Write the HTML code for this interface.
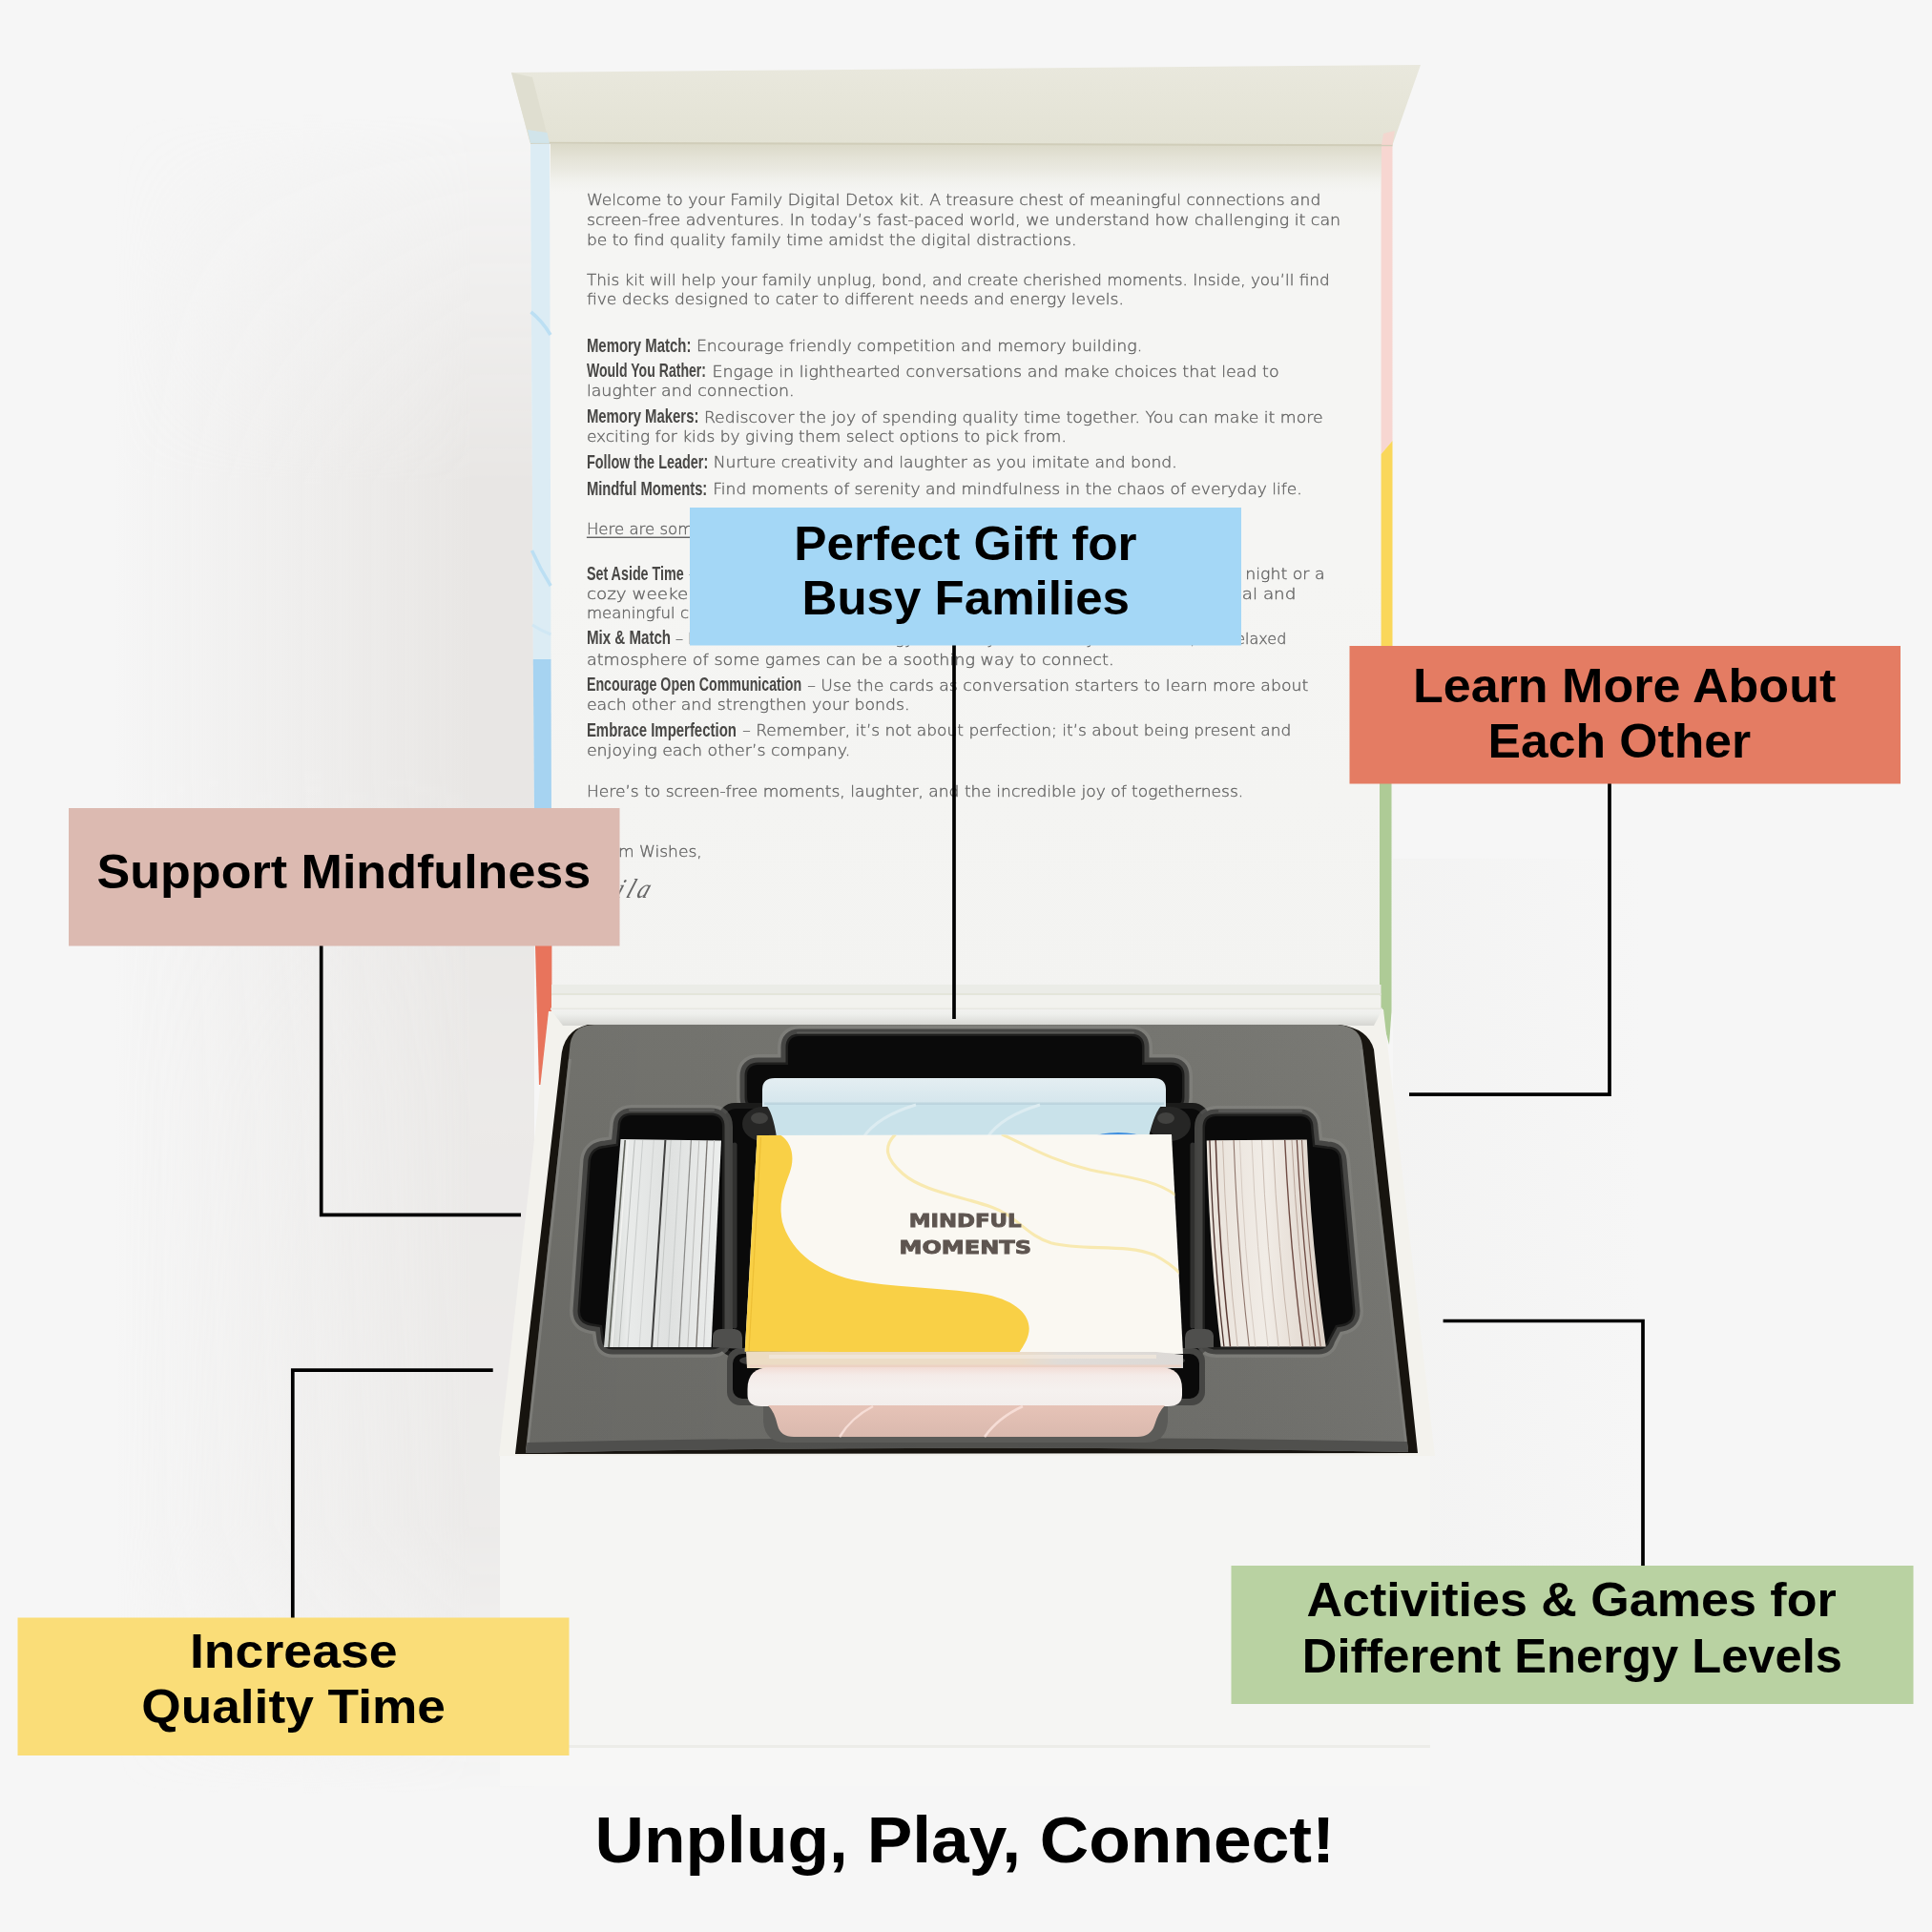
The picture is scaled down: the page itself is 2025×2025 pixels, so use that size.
<!DOCTYPE html>
<html lang="en"><head><meta charset="utf-8"><title>Family Digital Detox Kit</title>
<style>
html,body{margin:0;padding:0;background:#f6f6f6;}
body{width:2025px;height:2025px;overflow:hidden;}
svg{display:block;will-change:transform;}
.lbl{font-family:"Liberation Sans",sans-serif;font-weight:700;font-size:50px;fill:#000;}
.big{font-family:"Liberation Sans",sans-serif;font-weight:700;font-size:68.5px;fill:#000;}
.bd{font-family:"DejaVu Sans","Liberation Sans",sans-serif;font-weight:200;font-size:16px;fill:#626262;stroke:#626262;stroke-width:0.34px;}
.hd{font-family:"Liberation Sans",sans-serif;font-weight:700;font-size:21px;fill:#484745;}
.card{font-family:"DejaVu Sans","Liberation Sans",sans-serif;font-weight:700;font-size:19.5px;fill:#5e5550;stroke:#5e5550;stroke-width:0.9px;}
.sig{font-family:"Liberation Serif",serif;font-style:italic;font-size:30px;fill:#555;}
</style></head><body>
<svg width="2025" height="2025" viewBox="0 0 2025 2025">
<defs>
<radialGradient id="bgsh" cx="0.5" cy="0.5" r="0.5"><stop offset="0" stop-color="#e9e7e7" stop-opacity="1"/><stop offset="1" stop-color="#e9e7e7" stop-opacity="0"/></radialGradient>
<linearGradient id="flap" x1="0" y1="0" x2="0" y2="1"><stop offset="0" stop-color="#e9e8dd"/><stop offset="1" stop-color="#e3e2d4"/></linearGradient>
<linearGradient id="flapsh" x1="0" y1="0" x2="0" y2="1"><stop offset="0" stop-color="#dbd9c8" stop-opacity="1"/><stop offset="0.5" stop-color="#e6e5da" stop-opacity="0.75"/><stop offset="1" stop-color="#f0f0ea" stop-opacity="0"/></linearGradient>
<linearGradient id="tray" x1="0" y1="0" x2="0" y2="1"><stop offset="0" stop-color="#767671"/><stop offset="0.3" stop-color="#73736e"/><stop offset="1" stop-color="#6d6d69"/></linearGradient>
<linearGradient id="trayh" x1="0" y1="0" x2="1" y2="0"><stop offset="0" stop-color="#000" stop-opacity="0.04"/><stop offset="0.5" stop-color="#000" stop-opacity="0"/><stop offset="1" stop-color="#fff" stop-opacity="0.04"/></linearGradient>
<linearGradient id="lid" x1="0" y1="0" x2="0" y2="1"><stop offset="0" stop-color="#f5f5f3"/><stop offset="0.5" stop-color="#f5f5f3"/><stop offset="1" stop-color="#f3f3f1"/></linearGradient>
<linearGradient id="bot" x1="0" y1="0" x2="0" y2="1"><stop offset="0" stop-color="#fbfbfb" stop-opacity="0"/><stop offset="1" stop-color="#fbfbfb" stop-opacity="1"/></linearGradient>
<linearGradient id="shband" x1="0" y1="0" x2="1" y2="0"><stop offset="0" stop-color="#e8e6e4" stop-opacity="0"/><stop offset="0.45" stop-color="#e8e6e4" stop-opacity="0.5"/><stop offset="0.85" stop-color="#e8e6e4" stop-opacity="1"/><stop offset="1" stop-color="#e8e6e4" stop-opacity="1"/></linearGradient>
<linearGradient id="shv" x1="0" y1="0" x2="0" y2="1"><stop offset="0" stop-color="#000"/><stop offset="0.06" stop-color="#454545"/><stop offset="0.22" stop-color="#fff"/><stop offset="0.39" stop-color="#fff"/><stop offset="0.585" stop-color="#cfcfcf"/><stop offset="0.84" stop-color="#b5b5b5"/><stop offset="0.926" stop-color="#666"/><stop offset="1" stop-color="#000"/></linearGradient>
<mask id="shmask" maskUnits="userSpaceOnUse" x="120" y="120" width="440" height="1760"><rect x="120" y="120" width="440" height="1760" fill="url(#shv)"/></mask>
<linearGradient id="shr" x1="0" y1="0" x2="1" y2="0"><stop offset="0" stop-color="#f0f0ef" stop-opacity="1"/><stop offset="1" stop-color="#f0f0ef" stop-opacity="0"/></linearGradient>
<linearGradient id="rimsh" x1="0" y1="0" x2="0" y2="1"><stop offset="0" stop-color="#f1f1ef"/><stop offset="0.3" stop-color="#eeefec"/><stop offset="1" stop-color="#d6d6d2"/></linearGradient>
<linearGradient id="plastic" x1="0" y1="0" x2="1" y2="0"><stop offset="0" stop-color="#ecdcc4"/><stop offset="0.62" stop-color="#ecdcc8"/><stop offset="0.72" stop-color="#e0dcd8"/><stop offset="1" stop-color="#dcd9d6"/></linearGradient>
<linearGradient id="pinkb" x1="0" y1="0" x2="0" y2="1"><stop offset="0" stop-color="#e6c3b7"/><stop offset="1" stop-color="#dab9ae"/></linearGradient>
<linearGradient id="bg" x1="0" y1="0" x2="1" y2="0"><stop offset="0" stop-color="#f5f5f5"/><stop offset="0.5" stop-color="#f7f7f7"/><stop offset="1" stop-color="#fafafa"/></linearGradient>
<linearGradient id="stackL" x1="0" y1="0" x2="1" y2="0"><stop offset="0" stop-color="#cfd3d0"/><stop offset="0.2" stop-color="#e9ebea"/><stop offset="0.55" stop-color="#dfe1e0"/><stop offset="1" stop-color="#eceeed"/></linearGradient>
<linearGradient id="stackR" x1="0" y1="0" x2="1" y2="0"><stop offset="0" stop-color="#e9e2da"/><stop offset="0.5" stop-color="#f1ece6"/><stop offset="1" stop-color="#ddd2c8"/></linearGradient>
<linearGradient id="blue1" x1="0" y1="0" x2="0" y2="1"><stop offset="0" stop-color="#e4eef2"/><stop offset="1" stop-color="#d3e5ec"/></linearGradient>
<linearGradient id="pinkhi" x1="0" y1="0" x2="0" y2="1"><stop offset="0" stop-color="#f2dcd5"/><stop offset="0.2" stop-color="#f4ebe8"/><stop offset="0.6" stop-color="#f5f1ef"/><stop offset="1" stop-color="#f3eeec"/></linearGradient>
<clipPath id="cardclip"><path d="M793.6,1190 L1228,1189 L1240,1419 L780.7,1416.6 Z"/></clipPath>
</defs>
<rect width="2025" height="2025" fill="#f6f6f6"/>
<rect x="120" y="120" width="440" height="1760" fill="url(#shband)" mask="url(#shmask)"/>
<rect x="1460" y="900" width="260" height="800" fill="url(#shr)" opacity="0.5"/>
<path d="M524,1520 L1499,1520 L1499,1833 L524,1833 Z" fill="#f5f5f3"/>
<rect x="524" y="1829" width="975" height="3" fill="#ecece8"/>
<rect x="524" y="1832" width="975" height="40" fill="#f8f8f7" opacity="0.7"/>
<path d="M556,149 L1459.5,151 L1459.5,1062 L561,1062 Z" fill="url(#lid)"/>
<path d="M556,150 L576,150 L577.5,692 L558.8,692 Z" fill="#dcecf4"/>
<path d="M558.8,691 L577.5,691 L578.4,992 L561,992 Z" fill="#a6d3f1"/>
<path d="M561,991 L578.4,991 L578.4,1059 L567,1137 L565,1137 Z" fill="#e8745c"/>
<path d="M556.5,327 Q568,336 577,351" stroke="#bcdff3" stroke-width="3.5" fill="none"/>
<path d="M557.5,577 Q566,596 577.2,614" stroke="#bcdff3" stroke-width="3.5" fill="none"/>
<path d="M558,655 Q567,661 577.4,665" stroke="#cbe5f3" stroke-width="3" fill="none" opacity="0.7"/>
<path d="M1447.6,152 L1459.5,152 L1459.5,462 L1447.6,476 Z" fill="#f7d6d1"/>
<path d="M1447.6,476 L1459.5,462 L1459.5,680 L1447.6,680 Z" fill="#fad75a"/>
<path d="M1446,820 L1458.5,820 L1458.5,1060 L1456,1095 L1446,1058 Z" fill="#aecb96"/>
<path d="M536,76 L1489,68 L1459.5,152 L555.6,149.6 Z" fill="url(#flap)"/>
<path d="M536,76 L558,81 L575.6,149.6 L555.6,149.6 Z" fill="#dfded0"/>
<rect x="577" y="151" width="871" height="52" fill="url(#flapsh)"/>
<path d="M556,149.8 L1459.5,152.2" stroke="#d0cdb9" stroke-width="2" fill="none"/>
<path d="M553,136 L573.5,139 L576,150.5 L556,150 Z" fill="#cfe5ee" opacity="0.85"/>
<path d="M1450,140 L1462,137 L1459.5,152 L1448,152 Z" fill="#f6d3cd" opacity="0.8"/>
<rect x="578" y="1032" width="869.5" height="11" fill="#ebece7"/>
<rect x="578" y="1041" width="869.5" height="2.2" fill="#e4e5da"/>
<rect x="578" y="1043.2" width="869.5" height="14" fill="#f2f2ee"/>
<rect x="577" y="1056.5" width="872" height="1.6" fill="#e7e7e1"/>
<g id="lid-text">
<text class="bd" x="614.9" y="215.0" textLength="769.4" lengthAdjust="spacingAndGlyphs">Welcome to your Family Digital Detox kit. A treasure chest of meaningful connections and</text>
<text class="bd" x="614.9" y="236.2" textLength="790.2" lengthAdjust="spacingAndGlyphs">screen-free adventures. In today’s fast-paced world, we understand how challenging it can</text>
<text class="bd" x="614.9" y="256.7" textLength="513.5" lengthAdjust="spacingAndGlyphs">be to find quality family time amidst the digital distractions.</text>
<text class="bd" x="614.9" y="299.0" textLength="778.8" lengthAdjust="spacingAndGlyphs">This kit will help your family unplug, bond, and create cherished moments. Inside, you’ll find</text>
<text class="bd" x="614.9" y="319.4" textLength="563.1" lengthAdjust="spacingAndGlyphs">five decks designed to cater to different needs and energy levels.</text>
<text class="hd" x="614.9" y="368.59999999999997" textLength="109.5" lengthAdjust="spacingAndGlyphs">Memory Match:</text>
<text class="bd" x="729.9" y="368.2" textLength="467.3" lengthAdjust="spacingAndGlyphs">Encourage friendly competition and memory building.</text>
<text class="hd" x="614.9" y="395.09999999999997" textLength="125.1" lengthAdjust="spacingAndGlyphs">Would You Rather:</text>
<text class="bd" x="746.4" y="394.7" textLength="594.2" lengthAdjust="spacingAndGlyphs">Engage in lighthearted conversations and make choices that lead to</text>
<text class="bd" x="614.9" y="414.7" textLength="217.7" lengthAdjust="spacingAndGlyphs">laughter and connection.</text>
<text class="hd" x="614.9" y="443.09999999999997" textLength="117.5" lengthAdjust="spacingAndGlyphs">Memory Makers:</text>
<text class="bd" x="737.9" y="442.7" textLength="648.6" lengthAdjust="spacingAndGlyphs">Rediscover the joy of spending quality time together. You can make it more</text>
<text class="bd" x="614.9" y="463.1" textLength="502.9" lengthAdjust="spacingAndGlyphs">exciting for kids by giving them select options to pick from.</text>
<text class="hd" x="614.9" y="490.7" textLength="127.3" lengthAdjust="spacingAndGlyphs">Follow the Leader:</text>
<text class="bd" x="747.7" y="490.3" textLength="486.0" lengthAdjust="spacingAndGlyphs">Nurture creativity and laughter as you imitate and bond.</text>
<text class="hd" x="614.9" y="518.6999999999999" textLength="126.4" lengthAdjust="spacingAndGlyphs">Mindful Moments:</text>
<text class="bd" x="747.3" y="518.3" textLength="617.5" lengthAdjust="spacingAndGlyphs">Find moments of serenity and mindfulness in the chaos of everyday life.</text>
<text class="bd" x="614.9" y="559.5" textLength="575.1" lengthAdjust="spacingAndGlyphs">Here are some tips to make the most of your Family Digital Detox kit:</text>
<text class="hd" x="614.9" y="607.5" textLength="101.8" lengthAdjust="spacingAndGlyphs">Set Aside Time</text>
<text class="bd" x="722.0" y="607.1" textLength="666.6" lengthAdjust="spacingAndGlyphs">– Choose a regular time for family fun, whether it’s a weekly game night or a</text>
<text class="bd" x="614.9" y="627.5" textLength="743.5" lengthAdjust="spacingAndGlyphs">cozy weekend morning together, so that these moments become intentional and</text>
<text class="bd" x="614.9" y="647.8" textLength="305.1" lengthAdjust="spacingAndGlyphs">meaningful connection for everyone.</text>
<text class="hd" x="614.9" y="675.4" textLength="88.2" lengthAdjust="spacingAndGlyphs">Mix &amp; Match</text>
<text class="bd" x="708.0" y="675.0" textLength="640.3" lengthAdjust="spacingAndGlyphs">– Pick a deck to suit the energy of the day. Whenever you need one, the relaxed</text>
<text class="bd" x="614.9" y="696.6" textLength="552.6" lengthAdjust="spacingAndGlyphs">atmosphere of some games can be a soothing way to connect.</text>
<text class="hd" x="614.9" y="724.1999999999999" textLength="225.3" lengthAdjust="spacingAndGlyphs">Encourage Open Communication</text>
<text class="bd" x="846.2" y="723.8" textLength="525.0" lengthAdjust="spacingAndGlyphs">– Use the cards as conversation starters to learn more about</text>
<text class="bd" x="614.9" y="744.2" textLength="338.6" lengthAdjust="spacingAndGlyphs">each other and strengthen your bonds.</text>
<text class="hd" x="614.9" y="771.6999999999999" textLength="157.0" lengthAdjust="spacingAndGlyphs">Embrace Imperfection</text>
<text class="bd" x="778.3" y="771.3" textLength="575.1" lengthAdjust="spacingAndGlyphs">– Remember, it’s not about perfection; it’s about being present and</text>
<text class="bd" x="614.9" y="791.9" textLength="276.3" lengthAdjust="spacingAndGlyphs">enjoying each other’s company.</text>
<text class="bd" x="614.9" y="835.3" textLength="688.4" lengthAdjust="spacingAndGlyphs">Here’s to screen-free moments, laughter, and the incredible joy of togetherness.</text>
<text class="bd" x="614.9" y="897.7" textLength="120.9" lengthAdjust="spacingAndGlyphs">Warm Wishes,</text>
<rect x="614.9" y="562.6" width="576" height="1.3" fill="#555"/>
<text class="sig" x="0" y="0" transform="translate(596,941) skewX(-20) scale(1,1.15)" style="font-size:25px;letter-spacing:4px;fill:#666">Sheila</text>
</g>
<path d="M575,1060 L1450,1058 L1504,1526 L523,1526 Z" fill="#f3f2ed"/>
<path d="M577,1058 L1449,1058 L1440,1075 L590,1075 Z" fill="url(#rimsh)"/>
<path d="M588,1110 Q590,1080 616,1074 L1404,1074 Q1434,1078 1440,1100 L1486,1523 L540,1524 Z" fill="#17140f"/>
<path d="M597,1100 Q598,1074 623,1074 L1402,1074 Q1426,1076 1428,1096 L1476,1522 Q1000,1513 551,1523 Z" fill="url(#tray)"/>
<path d="M597,1100 Q598,1074 623,1074 L1402,1074 Q1426,1076 1428,1096 L1476,1522 Q1000,1513 551,1523 Z" fill="url(#trayh)"/>
<path d="M597.5,1110 L552.5,1520" stroke="#8a8a86" stroke-width="3" opacity="0.55" fill="none"/>
<path d="M1427,1100 L1474.5,1519" stroke="#8a8a86" stroke-width="3" opacity="0.45" fill="none"/>
<path d="M551,1523 Q1000,1513 1476,1522 L1475,1511 Q1000,1502 552.5,1512 Z" fill="#4c4c4a" opacity="0.9"/>
<path d="M838,1086 L1185,1086 Q1197,1086 1197,1098 L1197,1116 L1227,1116 Q1239,1116 1239,1128 L1239,1150 Q1239,1160 1229,1160 L793,1160 Q783,1160 783,1150 L783,1128 Q783,1116 795,1116 L826,1116 L826,1098 Q826,1086 838,1086 Z" fill="#8b8b87" stroke="#8b8b87" stroke-width="22" stroke-linejoin="round" opacity="0.45"/>
<path d="M838,1086 L1185,1086 Q1197,1086 1197,1098 L1197,1116 L1227,1116 Q1239,1116 1239,1128 L1239,1150 Q1239,1160 1229,1160 L793,1160 Q783,1160 783,1150 L783,1128 Q783,1116 795,1116 L826,1116 L826,1098 Q826,1086 838,1086 Z" fill="#464644" stroke="#464644" stroke-width="15" stroke-linejoin="round"/>
<path d="M838,1086 L1185,1086 Q1197,1086 1197,1098 L1197,1116 L1227,1116 Q1239,1116 1239,1128 L1239,1150 Q1239,1160 1229,1160 L793,1160 Q783,1160 783,1150 L783,1128 Q783,1116 795,1116 L826,1116 L826,1098 Q826,1086 838,1086 Z" fill="#1e1e1d" stroke="#1e1e1d" stroke-width="5" stroke-linejoin="round"/>
<path d="M838,1086 L1185,1086 Q1197,1086 1197,1098 L1197,1116 L1227,1116 Q1239,1116 1239,1128 L1239,1150 Q1239,1160 1229,1160 L793,1160 Q783,1160 783,1150 L783,1128 Q783,1116 795,1116 L826,1116 L826,1098 Q826,1086 838,1086 Z" fill="#0a0a0a"/>
<path d="M836,1082.5 L1188,1082.5" stroke="#6d6d6a" stroke-width="2" opacity="0.55" stroke-linecap="round"/>
<rect x="752" y="1156" width="516" height="266" rx="18" fill="#1b1b1a"/>
<rect x="758" y="1162" width="504" height="256" rx="14" fill="#0a0a0a"/>
<path d="M662,1169 L745,1169 Q757,1169 757,1181 L757,1400 Q757,1412 745,1412 L642,1412 Q634,1412 633,1404 L631,1389 L619,1387 Q608,1385 608,1374 L619,1216 Q621,1204 635,1203 L648,1201 L650,1181 Q650,1169 662,1169 Z" fill="#8b8b87" stroke="#8b8b87" stroke-width="22" stroke-linejoin="round" opacity="0.45"/>
<path d="M662,1169 L745,1169 Q757,1169 757,1181 L757,1400 Q757,1412 745,1412 L642,1412 Q634,1412 633,1404 L631,1389 L619,1387 Q608,1385 608,1374 L619,1216 Q621,1204 635,1203 L648,1201 L650,1181 Q650,1169 662,1169 Z" fill="#464644" stroke="#464644" stroke-width="15" stroke-linejoin="round"/>
<path d="M662,1169 L745,1169 Q757,1169 757,1181 L757,1400 Q757,1412 745,1412 L642,1412 Q634,1412 633,1404 L631,1389 L619,1387 Q608,1385 608,1374 L619,1216 Q621,1204 635,1203 L648,1201 L650,1181 Q650,1169 662,1169 Z" fill="#1e1e1d" stroke="#1e1e1d" stroke-width="5" stroke-linejoin="round"/>
<path d="M662,1169 L745,1169 Q757,1169 757,1181 L757,1400 Q757,1412 745,1412 L642,1412 Q634,1412 633,1404 L631,1389 L619,1387 Q608,1385 608,1374 L619,1216 Q621,1204 635,1203 L648,1201 L650,1181 Q650,1169 662,1169 Z" fill="#0a0a0a"/>
<path d="M660,1163.5 L748,1163.5" stroke="#757572" stroke-width="2" opacity="0.5" stroke-linecap="round"/>
<path d="M1275,1170 L1362,1170 Q1374,1170 1374,1182 L1376,1202 L1391,1204 Q1403,1204 1404,1216 L1418,1374 Q1418,1386 1406,1388 L1400,1389 L1392,1404 Q1390,1412 1382,1412 L1275,1412 Q1263,1412 1263,1400 L1263,1182 Q1263,1170 1275,1170 Z" fill="#8b8b87" stroke="#8b8b87" stroke-width="22" stroke-linejoin="round" opacity="0.45"/>
<path d="M1275,1170 L1362,1170 Q1374,1170 1374,1182 L1376,1202 L1391,1204 Q1403,1204 1404,1216 L1418,1374 Q1418,1386 1406,1388 L1400,1389 L1392,1404 Q1390,1412 1382,1412 L1275,1412 Q1263,1412 1263,1400 L1263,1182 Q1263,1170 1275,1170 Z" fill="#464644" stroke="#464644" stroke-width="15" stroke-linejoin="round"/>
<path d="M1275,1170 L1362,1170 Q1374,1170 1374,1182 L1376,1202 L1391,1204 Q1403,1204 1404,1216 L1418,1374 Q1418,1386 1406,1388 L1400,1389 L1392,1404 Q1390,1412 1382,1412 L1275,1412 Q1263,1412 1263,1400 L1263,1182 Q1263,1170 1275,1170 Z" fill="#1e1e1d" stroke="#1e1e1d" stroke-width="5" stroke-linejoin="round"/>
<path d="M1275,1170 L1362,1170 Q1374,1170 1374,1182 L1376,1202 L1391,1204 Q1403,1204 1404,1216 L1418,1374 Q1418,1386 1406,1388 L1400,1389 L1392,1404 Q1390,1412 1382,1412 L1275,1412 Q1263,1412 1263,1400 L1263,1182 Q1263,1170 1275,1170 Z" fill="#0a0a0a"/>
<path d="M1278,1164.5 L1364,1164.5" stroke="#757572" stroke-width="2" opacity="0.5" stroke-linecap="round"/>
<ellipse cx="800" cy="1178" rx="22" ry="18" fill="#262625"/>
<ellipse cx="796" cy="1172" rx="9" ry="6" fill="#5a5a58" opacity="0.55"/>
<ellipse cx="1226" cy="1178" rx="22" ry="18" fill="#262625"/>
<ellipse cx="1222" cy="1172" rx="9" ry="6" fill="#5a5a58" opacity="0.55"/>
<path d="M770,1200 L770,1390" stroke="#3a3a39" stroke-width="5" opacity="0.8" stroke-linecap="round"/>
<path d="M1250,1200 L1250,1390" stroke="#3a3a39" stroke-width="5" opacity="0.8" stroke-linecap="round"/>
<rect x="762" y="1413" width="50" height="60" rx="14" fill="#464644"/>
<rect x="768" y="1419" width="38" height="47" rx="10" fill="#0a0a0a"/>
<rect x="1206" y="1413" width="57" height="60" rx="14" fill="#464644"/>
<rect x="1212" y="1419" width="45" height="47" rx="10" fill="#0a0a0a"/>
<ellipse cx="785" cy="1426" rx="10" ry="4" fill="#6a6a68" opacity="0.5"/>
<ellipse cx="1232" cy="1426" rx="10" ry="4" fill="#6a6a68" opacity="0.5"/>
<path d="M800,1440 L1224,1440 L1224,1490 Q1222,1512 1200,1512 L824,1512 Q802,1512 800,1490 Z" fill="#5b5b58"/>
<path d="M799,1160 L799,1142 Q799,1130 812,1130 L1209,1130 Q1222,1130 1222,1142 L1222,1160 Z" fill="url(#blue1)"/>
<path d="M802,1157 L1219,1157 Q1210,1165 1204,1192 L814,1192 Q810,1165 802,1157 Z" fill="#c9e2ea"/>
<rect x="801" y="1155.5" width="419" height="2.5" fill="#b5cfd9" opacity="0.7"/>
<path d="M905,1192 Q920,1170 960,1158" stroke="#dcecf1" stroke-width="3" fill="none"/>
<path d="M1035,1192 Q1050,1170 1090,1158" stroke="#dcecf1" stroke-width="3" fill="none"/>
<ellipse cx="1172" cy="1192" rx="24" ry="5" fill="#3f8fe0"/>
<path d="M650.5,1194 L756,1195.5 L745.5,1412 L633,1412 Z" fill="url(#stackL)"/>
<line x1="655.2" y1="1195" x2="638.1" y2="1412" stroke="#5d5f57" stroke-width="1.6"/>
<line x1="658.4" y1="1195" x2="641.4" y2="1412" stroke="#f4f4f2" stroke-width="1.2"/>
<line x1="665.3" y1="1195" x2="648.8" y2="1412" stroke="#b9bcba" stroke-width="1"/>
<line x1="673.7" y1="1195" x2="657.8" y2="1412" stroke="#c9cccb" stroke-width="1"/>
<line x1="685.3" y1="1195" x2="670.1" y2="1412" stroke="#d0d2d1" stroke-width="1"/>
<line x1="697.4" y1="1195" x2="683.1" y2="1412" stroke="#3f3f3e" stroke-width="2.0"/>
<line x1="703.2" y1="1195" x2="689.2" y2="1412" stroke="#c4c7c5" stroke-width="1"/>
<line x1="713.8" y1="1195" x2="700.5" y2="1412" stroke="#c9cccb" stroke-width="1"/>
<line x1="724.4" y1="1195" x2="711.8" y2="1412" stroke="#8a8a88" stroke-width="1.2"/>
<line x1="732.8" y1="1195" x2="720.8" y2="1412" stroke="#bdbdbb" stroke-width="1"/>
<line x1="741.2" y1="1195" x2="729.8" y2="1412" stroke="#77726e" stroke-width="1.3"/>
<line x1="748.6" y1="1195" x2="737.6" y2="1412" stroke="#c2c2c2" stroke-width="1"/>
<path d="M1264.7,1195.4 L1369.8,1194.6 Q1374,1300 1389.7,1411.5 L1279.6,1411.5 Q1268,1320 1264.7,1195.4 Z" fill="url(#stackR)"/>
<path d="M1267.9,1195 Q1271.2,1310 1282.9,1411.5" stroke="#4a2f2a" stroke-width="1.3" fill="none"/>
<path d="M1274.2,1195 Q1277.7,1310 1289.5,1411.5" stroke="#5a3a34" stroke-width="1.5" fill="none"/>
<path d="M1281.5,1195 Q1285.3,1310 1297.2,1411.5" stroke="#c9b9ae" stroke-width="1" fill="none"/>
<path d="M1293.1,1195 Q1297.2,1310 1309.3,1411.5" stroke="#8f766c" stroke-width="1.1" fill="none"/>
<path d="M1299.4,1195 Q1303.6,1310 1315.9,1411.5" stroke="#d6cbc2" stroke-width="1" fill="none"/>
<path d="M1312.0,1195 Q1316.6,1310 1329.1,1411.5" stroke="#d4c9c0" stroke-width="1" fill="none"/>
<path d="M1322.5,1195 Q1327.4,1310 1340.2,1411.5" stroke="#cbbdb3" stroke-width="1" fill="none"/>
<path d="M1334.1,1195 Q1339.3,1310 1352.3,1411.5" stroke="#c6b6ab" stroke-width="1" fill="none"/>
<path d="M1346.7,1195 Q1352.2,1310 1365.5,1411.5" stroke="#6f4c44" stroke-width="1.4" fill="none"/>
<path d="M1354.0,1195 Q1359.8,1310 1373.2,1411.5" stroke="#b9a59a" stroke-width="1" fill="none"/>
<path d="M1359.3,1195 Q1365.2,1310 1378.7,1411.5" stroke="#6d4a42" stroke-width="1.3" fill="none"/>
<path d="M1364.5,1195 Q1370.6,1310 1384.2,1411.5" stroke="#8a6c62" stroke-width="1.1" fill="none"/>
<path d="M747,1412 L747,1400 Q748,1393 756,1393 L770,1393 Q778,1394 778,1402 L778,1414 Z" fill="#4f4f4d"/>
<path d="M1272,1412 L1272,1400 Q1271,1393 1263,1393 L1250,1393 Q1242,1394 1242,1402 L1242,1414 Z" fill="#4f4f4d"/>
<path d="M793.6,1190 L1228,1189 L1240,1419 L780.7,1416.6 Z" fill="#faf8f2"/>
<g clip-path="url(#cardclip)">
<path d="M 791.1,1188.8 L 817.5,1189.3 C 833.0,1199.2 831.9,1217.8 827.8,1228.9 C 822.1,1244.5 815.6,1260.0 820.0,1280.7 C 827.3,1306.6 850.6,1331.2 894.6,1341.5 C 941.2,1350.6 992.9,1349.3 1034.3,1357.0 C 1070.6,1364.8 1082.2,1382.9 1077.8,1399.0 C 1075.2,1408.8 1069.5,1414.5 1066.9,1420.4 L 778.1,1419.2 Z" fill="#f9d046"/>
<path d="M 938.6,1188.8 C 925.6,1201.8 928.2,1214.7 946.3,1230.2 C 967.0,1248.3 1005.9,1253.5 1039.5,1265.2 C 1065.4,1274.2 1075.7,1294.9 1101.6,1302.7 C 1135.3,1311.7 1179.3,1302.7 1210.3,1315.6 C 1223.3,1322.1 1231.0,1328.6 1238.8,1336.3" stroke="#f8e9b0" stroke-width="3.2" fill="none"/>
<path d="M 1049.9,1188.8 C 1078.3,1201.8 1104.2,1217.3 1143.0,1226.3 C 1174.1,1232.8 1210.3,1235.4 1233.6,1253.5" stroke="#f8e9b0" stroke-width="3" fill="none"/>
<path d="M797.5,1192 L785,1416" stroke="#e9b92f" stroke-width="1.2" opacity="0.7"/>
</g>
<text class="card" x="952.8" y="1286.4" textLength="117.8" lengthAdjust="spacingAndGlyphs">MINDFUL</text>
<text class="card" x="942.5" y="1314.3" textLength="138.5" lengthAdjust="spacingAndGlyphs">MOMENTS</text>
<path d="M806,1417 L1212,1417 L1240,1420 L1240,1434 L783,1434 L782,1417 Z" fill="url(#plastic)"/>
<rect x="806" y="1420" width="406" height="4" fill="#f1e7dc" opacity="0.8"/>
<rect x="786" y="1430.5" width="452" height="2.5" fill="#eccfc2" opacity="0.8"/>
<path d="M783.5,1456 Q783.5,1433 808,1433 L1215,1433 Q1239,1433 1239,1456 L1239,1462 Q1239,1474 1224,1474 L798,1474 Q783.5,1474 783.5,1462 Z" fill="url(#pinkhi)"/>
<path d="M805,1473 L1221,1473 Q1214,1480 1210,1494 Q1206,1506 1192,1506 L832,1506 Q818,1506 815,1494 Q812,1480 805,1473 Z" fill="url(#pinkb)"/>
<path d="M880,1506 Q892,1486 915,1474" stroke="#f6ddd6" stroke-width="2.5" fill="none"/>
<path d="M1032,1506 Q1046,1486 1072,1474" stroke="#f6ddd6" stroke-width="2.5" fill="none"/>
<g fill="none" stroke="#000" stroke-width="3.7">
<path d="M1000,676 L1000,1068"/>
<path d="M336.7,991 L336.7,1273.4 L546,1273.4"/>
<path d="M516.7,1436.2 L306.8,1436.2 L306.8,1696"/>
<path d="M1687,821 L1687,1147.2 L1477,1147.2"/>
<path d="M1512.6,1384.5 L1722,1384.5 L1722,1642"/>
</g>
<rect x="723" y="532" width="578" height="144.5" fill="#a4d7f6"/>
<rect x="1414.5" y="677" width="577.5" height="144.5" fill="#e47c63"/>
<rect x="72" y="847" width="577.5" height="144.5" fill="#dcbab1"/>
<rect x="18.5" y="1695.5" width="578" height="144.5" fill="#fadd78"/>
<rect x="1290.5" y="1641" width="715" height="145" fill="#b9d2a2"/>
<text class="lbl" x="832.3" y="587.4" textLength="359.3" lengthAdjust="spacingAndGlyphs">Perfect Gift for</text>
<text class="lbl" x="840.5" y="644.3" textLength="343.5" lengthAdjust="spacingAndGlyphs">Busy Families</text>
<text class="lbl" x="1480.9" y="736.0" textLength="443.4" lengthAdjust="spacingAndGlyphs">Learn More About</text>
<text class="lbl" x="1559.5" y="794.3" textLength="275.5" lengthAdjust="spacingAndGlyphs">Each Other</text>
<text class="lbl" x="101.5" y="931.2" textLength="517.8" lengthAdjust="spacingAndGlyphs">Support Mindfulness</text>
<text class="lbl" x="198.9" y="1748.1" textLength="217.8" lengthAdjust="spacingAndGlyphs">Increase</text>
<text class="lbl" x="148.2" y="1806.1" textLength="318.8" lengthAdjust="spacingAndGlyphs">Quality Time</text>
<text class="lbl" x="1369.5" y="1694.4" textLength="555.2" lengthAdjust="spacingAndGlyphs">Activities &amp; Games for</text>
<text class="lbl" x="1364.8" y="1753.4" textLength="566.2" lengthAdjust="spacingAndGlyphs">Different Energy Levels</text>
<text class="big" x="623.4" y="1951.6" textLength="775.5" lengthAdjust="spacingAndGlyphs">Unplug, Play, Connect!</text>
</svg></body></html>
